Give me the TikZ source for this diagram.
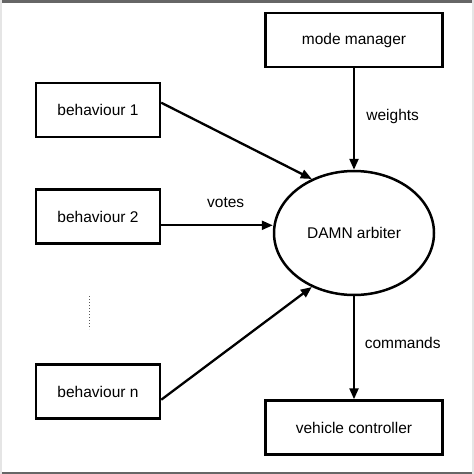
\documentclass[tikz,border=0pt]{standalone}
\usepackage{fontspec}
\setmainfont{Liberation Sans}
\usetikzlibrary{arrows.meta,shapes.geometric}
\begin{document}
\begin{tikzpicture}[x=1pt,y=-1pt,
  box/.style={draw=black,line width=2.5pt,minimum width=124pt,minimum height=54pt,inner sep=0pt,font=\fontsize{15.5}{18}\selectfont},
  wbox/.style={box,minimum width=177pt},
  lbl/.style={font=\fontsize{15.5}{18}\selectfont,inner sep=0pt},
  arr/.style={line width=2.3pt,-{Triangle[length=11pt,width=9pt]}}]
\useasboundingbox (0,0) rectangle (474,474);
\fill[white] (0,0) rectangle (474,474);
\fill[gray!80!black] (0,0) rectangle (474,2.5);
\fill[gray!80!black] (0,471.5) rectangle (474,474);
\fill[gray!20] (0,0) rectangle (2,474);
\fill[gray!20] (472,0) rectangle (474,474);
\node[wbox] (mm) at (354,40) {mode manager};
\node[box] (b1) at (98,110) {behaviour 1};
\node[box] (b2) at (98,216.5) {behaviour 2};
\node[box] (bn) at (98,391.5) {behaviour n};
\node[wbox] (vc) at (354,427.5) {vehicle controller};
\node[draw=black,line width=2.5pt,ellipse,minimum width=160pt,minimum height=124pt,inner sep=0pt,font=\fontsize{15.5}{18}\selectfont] (da) at (354,233) {DAMN arbiter};
\coordinate (d1) at (89,296);
\coordinate (d2) at (89,329);
\draw[line width=1pt,dotted,gray!70!black] (d1) -- (d2);
\draw[arr] (b1.east |- 0,102.7) -- (da.128);
\draw[arr] (b2.east |- 0,225.3) -- (da.west |- 0,225.3);
\draw[arr] (bn.east |- 0,399.7) -- (da.232);
\draw[arr] (mm) -- (da);
\draw[arr] (da) -- (vc);
\node[lbl] (w) at (392.7,116.7) {weights};
\node[lbl] (v) at (225.7,202.3) {votes};
\node[lbl] (c) at (402.7,343.3) {commands};
\end{tikzpicture}
\end{document}
